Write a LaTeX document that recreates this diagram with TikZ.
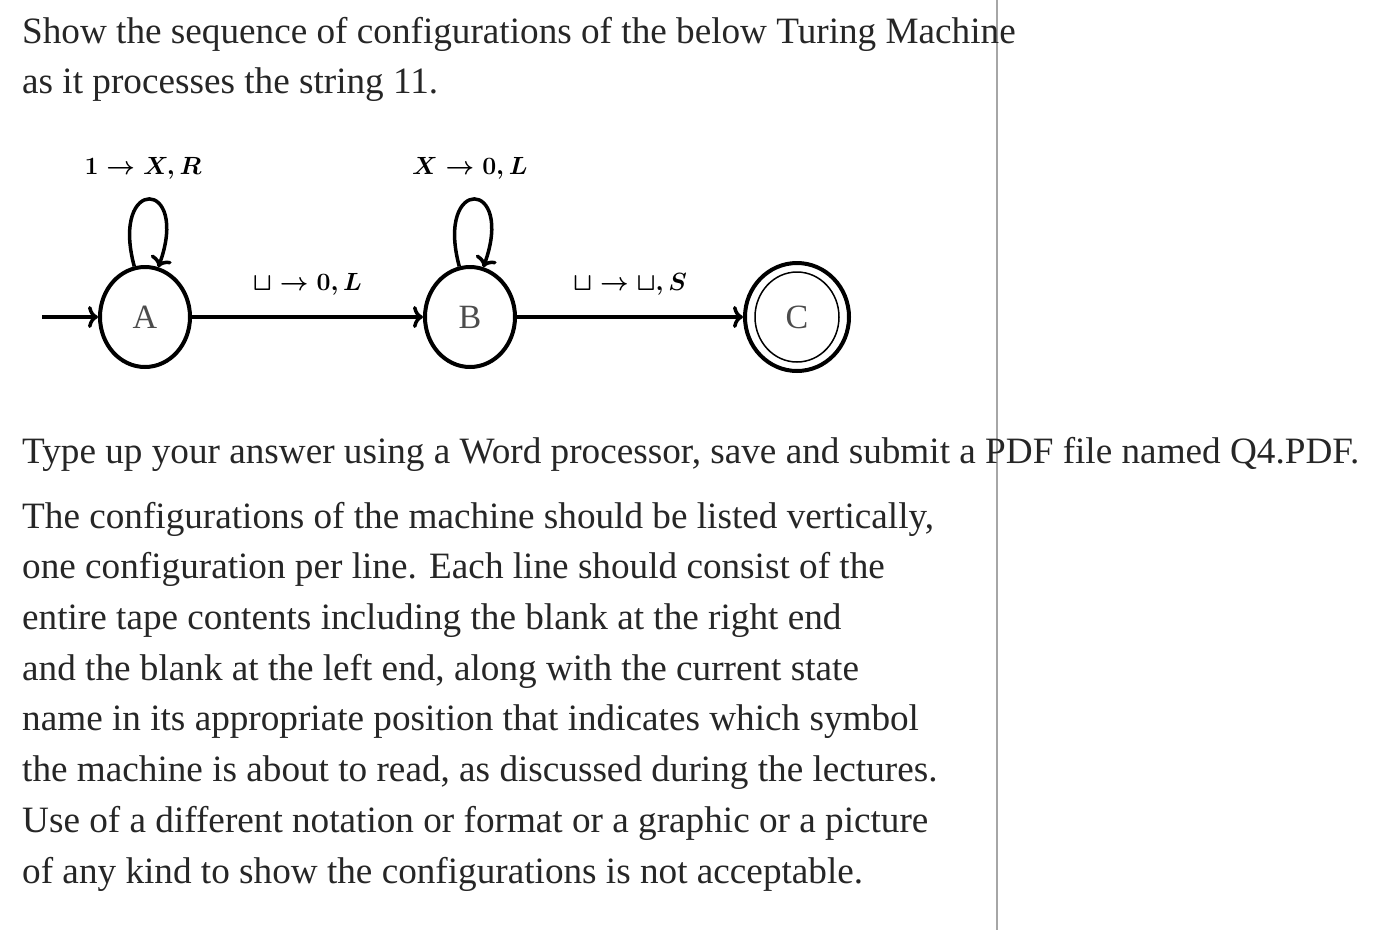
\documentclass[tikz,border=0pt]{standalone}
\usepackage{fontspec}
\setmainfont{Liberation Serif}
\usetikzlibrary{arrows.meta,shapes.geometric}
\begin{document}
\begin{tikzpicture}[x=1pt,y=-1pt,
  txt/.style={anchor=base west,inner sep=0pt,font=\fontsize{37.2}{42}\selectfont,text=black!85},
  st/.style={draw,line width=4pt,ellipse,minimum width=90pt,minimum height=100pt,inner sep=0pt,font=\fontsize{34}{38}\selectfont,text=black!70},
  lbl/.style={inner sep=0pt,font=\fontsize{40}{44}\selectfont\boldmath},
  ed/.style={line width=3.5pt,-{To[length=10pt,width=22pt]}}]
\useasboundingbox (0,0) rectangle (1400,930);
\draw[gray!70,line width=1.2pt] (997,0) -- (997,930);
\node[txt] (t1) at (22,43) {Show the sequence of configurations of the below Turing Machine};
\node[txt] (t2) at (22,93) {as it processes the string 11.};
\node[txt] (t3) at (22,463) {Type up your answer using a Word processor, save and submit a PDF file named Q4.PDF.};
\node[txt] (t4) at (22,528) {The configurations of the machine should be listed vertically,};
\node[txt] (t5) at (22,578) {one configuration per line. Each line should consist of the};
\node[txt] (t6) at (22,629) {entire tape contents including the blank at the right end};
\node[txt] (t7) at (22,680) {and the blank at the left end, along with the current state};
\node[txt] (t8) at (22,730) {name in its appropriate position that indicates which symbol};
\node[txt] (t9) at (22,781) {the machine is about to read, as discussed during the lectures.};
\node[txt] (t10) at (22,832) {Use of a different notation or format or a graphic or a picture};
\node[txt] (t11) at (22,883) {of any kind to show the configurations is not acceptable.};
\node[st] (A) at (145,317) {A};
\node[st] (B) at (470,317) {B};
\node[st,minimum width=104pt,minimum height=108pt] (C) at (797,317) {};
\node[draw,line width=1.5pt,ellipse,minimum width=84pt,minimum height=90pt,inner sep=0pt,font=\fontsize{34}{38}\selectfont,text=black!70] (Ci) at (797,317) {C};
\coordinate (s) at (42,317);
\draw[ed] (s) -- (A);
\draw[ed] (A) -- (B) node[lbl,midway,above=20pt] {$\sqcup\rightarrow0,L$};
\draw[ed] (B) -- (C) node[lbl,midway,above=20pt] {$\sqcup\rightarrow\sqcup,S$};
\draw[ed] (A.102) to[out=105,in=70,looseness=10] (A.75);
\draw[ed] (B.102) to[out=105,in=70,looseness=10] (B.75);
\node[lbl] (la) at (143,168) {$1\rightarrow X,R$};
\node[lbl] (lb) at (470,168) {$X\rightarrow0,L$};
\end{tikzpicture}
\end{document}
